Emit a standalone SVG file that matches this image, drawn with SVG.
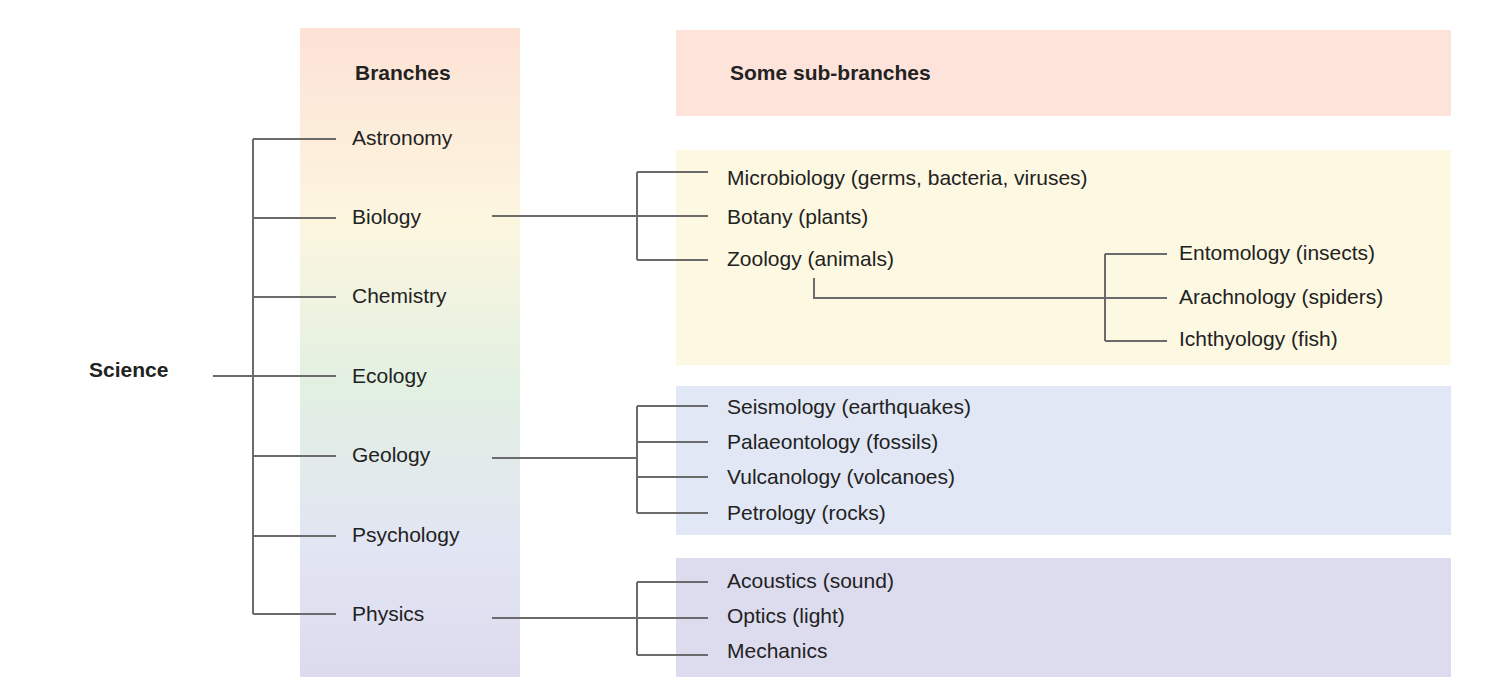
<svg xmlns="http://www.w3.org/2000/svg" width="1498" height="694" viewBox="0 0 1498 694">
<style>
text{font-family:"Liberation Sans",Arial,sans-serif;font-size:21px;fill:#222}
.b{font-weight:bold}
#connectors path{fill:none;stroke:#6b6b6b;stroke-width:2}
</style>
<defs>
<linearGradient id="g" x1="0" y1="0" x2="0" y2="1">
<stop offset="0" stop-color="#fde2d6"/>
<stop offset="0.3" stop-color="#fcf6df"/>
<stop offset="0.55" stop-color="#e2f0e2"/>
<stop offset="0.8" stop-color="#e2e5f3"/>
<stop offset="1" stop-color="#dcdbee"/>
</linearGradient>
</defs>
<rect width="1498" height="694" fill="#fff"/>
<rect x="300" y="28" width="220" height="649" fill="url(#g)"/>
<rect x="676" y="30" width="775" height="86" fill="#fde3da"/>
<rect x="676" y="150" width="775" height="215" fill="#fdf8e1"/>
<rect x="676" y="386" width="775" height="149" fill="#e1e7f4"/>
<rect x="676" y="558" width="775" height="119" fill="#dddcee"/>
<g id="connectors">
<path d="M213 376H253M253 139V614M253 139H336M253 218H336M253 297H336M253 376H336M253 456H336M253 536H336M253 614H336"/>
<path d="M492 216H637M637 172V260M637 172H708M637 216H708M637 260H708"/>
<path d="M814 278V298H1105M1105 254V341M1105 254H1167M1105 298H1167M1105 341H1167"/>
<path d="M492 458H637M637 406V513M637 406H708M637 442H708M637 477H708M637 513H708"/>
<path d="M492 618H637M637 582V655M637 582H708M637 618H708M637 655H708"/>
</g>
<g id="science"><text x="89" y="377" class="b">Science</text></g>
<g id="h1"><text x="355" y="80" class="b">Branches</text></g>
<g id="h2"><text x="730" y="80" class="b">Some sub-branches</text></g>
<g id="astronomy"><text x="352" y="145">Astronomy</text></g>
<g id="biology"><text x="352" y="224">Biology</text></g>
<g id="chemistry"><text x="352" y="303">Chemistry</text></g>
<g id="ecology"><text x="352" y="383">Ecology</text></g>
<g id="geology"><text x="352" y="462">Geology</text></g>
<g id="psychology"><text x="352" y="542">Psychology</text></g>
<g id="physics"><text x="352" y="621">Physics</text></g>
<g id="micro"><text x="727" y="185">Microbiology (germs, bacteria, viruses)</text></g>
<g id="botany"><text x="727" y="224">Botany (plants)</text></g>
<g id="zoology"><text x="727" y="266">Zoology (animals)</text></g>
<g id="ento"><text x="1179" y="260">Entomology (insects)</text></g>
<g id="arach"><text x="1179" y="304">Arachnology (spiders)</text></g>
<g id="ich"><text x="1179" y="346">Ichthyology (fish)</text></g>
<g id="seis"><text x="727" y="414">Seismology (earthquakes)</text></g>
<g id="palae"><text x="727" y="449">Palaeontology (fossils)</text></g>
<g id="vulc"><text x="727" y="484">Vulcanology (volcanoes)</text></g>
<g id="petro"><text x="727" y="520">Petrology (rocks)</text></g>
<g id="acou"><text x="727" y="588">Acoustics (sound)</text></g>
<g id="optics"><text x="727" y="623">Optics (light)</text></g>
<g id="mech"><text x="727" y="658">Mechanics</text></g>
</svg>
